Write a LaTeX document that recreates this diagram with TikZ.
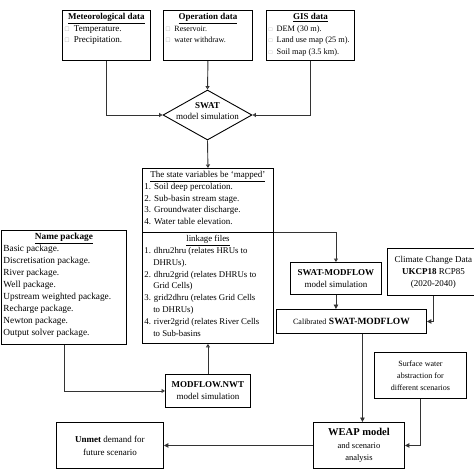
\documentclass[tikz,border=0pt]{standalone}
\usepackage{amssymb}
\usepackage{fontspec}
\setmainfont{Liberation Serif}
\usetikzlibrary{arrows.meta,shapes.geometric}

\newcommand{\boxtext}[3]{\parbox[t][#2][t]{#1}{#3}}
\newcommand{\fsize}[2]{\fontsize{#1}{#2}\selectfont}
\newcommand{\sqb}{{\color{gray!70}$\scriptscriptstyle\square$}\hspace{0.45em}}
\newcommand{\hangsp}{\hphantom{1.~}}

\begin{document}
\begin{tikzpicture}[%
    x=1pt, y=-1pt,
    box/.style={draw, line width=0.9pt, inner xsep=2pt, inner ysep=3pt, anchor=north west},
    cbox/.style={draw, line width=0.9pt, anchor=north west, align=center, inner sep=1pt},
    link/.style={line width=0.9pt, draw=black!80},
    oa/.style={-{Triangle[open,length=3.5pt,width=4pt]}},
    fa/.style={-{Triangle[length=4.5pt,width=4.5pt]}}
    ]

    \useasboundingbox (0,0) rectangle (474,474);

    % input data
    \node[box] (met) at (62,10) {\boxtext{84pt}{44pt}{\fsize{9}{11.5}\centering
        \underline{\textbf{Meteorological data}}\par\raggedright
        \sqb Temperature.\par\sqb Precipitation.}};
    \node[box] (oper) at (163,10) {\boxtext{85pt}{44pt}{\fsize{9}{11.5}\centering
        \underline{\textbf{Operation data}}\par\raggedright\fsize{8}{11.5}
        \sqb Reservoir.\par\sqb water withdraw.}};
    \node[box] (gis) at (266,10) {\boxtext{84pt}{44pt}{\fsize{9}{11.5}\centering
        \underline{\textbf{GIS data}}\par\raggedright\fsize{8.3}{11.5}
        \sqb DEM (30 m).\par\sqb Land use map (25 m).\par\sqb Soil map (3.5 km).}};

    % SWAT
    \node[draw, diamond, line width=0.9pt, minimum width=89pt, minimum height=50pt,
        inner sep=0pt] (swat) at (207.5,115) {};
    \node[align=center, font=\fsize{9}{11}] (swatlbl) at (207.5,111)
        {\textbf{SWAT}\\model simulation};

    \node[box] (state) at (142,168) {\boxtext{127pt}{58pt}{\fsize{9}{11.7}\centering
        \underline{The state variables be `mapped'}\par\raggedright
        1. Soil deep percolation.\par
        2. Sub-basin stream stage.\par
        3. Groundwater discharge.\par
        4. Water table elevation.}};
    \node[box] (linkage) at (142,232) {\boxtext{127pt}{105pt}{\fsize{8.8}{11.8}\centering
        \underline{linkage files}\par\raggedright
        \mbox{1. dhru2hru (relates HRUs to}\par
        \hangsp DHRUs).\par
        \mbox{2. dhru2grid (relates DHRUs to}\par
        \hangsp Grid Cells)\par
        \mbox{3. grid2dhru (relates Grid Cells}\par
        \hangsp to DHRUs)\par
        \mbox{4. river2grid (relates River Cells}\par
        \hangsp to Sub-basins}};

    \node[box] (pkg) at (1,230) {\boxtext{121pt}{108pt}{\fsize{9.3}{12}\centering
        \underline{\textbf{Name package}}\par\raggedright
        Basic package.\par
        Discretisation package.\par
        River package.\par
        Well package.\par
        Upstream weighted package.\par
        Recharge package.\par
        Newton package.\par
        Output solver package.}};

    % models
    \node[cbox, minimum width=85pt, minimum height=33pt, font=\fsize{9}{12}] (modflow)
        at (165,374) {\textbf{MODFLOW.NWT}\\model simulation};
    \node[cbox, minimum width=91pt, minimum height=32pt, font=\fsize{9}{12}] (swmf)
        at (290,262) {\textbf{SWAT-MODFLOW}\\model simulation};
    \node[cbox, minimum width=92pt, minimum height=47pt, font=\fsize{9}{12}] (climate)
        at (387,248) {Climate Change Data\\\textbf{UKCP18} RCP85\\(2020-2040)};
    \node[cbox, minimum width=150pt, minimum height=24pt] (calib)
        at (276,309) {{\fsize{8}{10}Calibrated} {\fsize{9.5}{11}\textbf{SWAT-MODFLOW}}};
    \node[cbox, minimum width=92pt, minimum height=46pt, font=\fsize{8}{12}] (surface)
        at (374,352) {Surface water\\abstraction for\\different scenarios};
    \node[cbox, minimum width=91pt, minimum height=46pt, font=\fsize{8.5}{12.5}] (weap)
        at (313,422) {{\fsize{10.5}{13}\textbf{WEAP model}}\\and scenario\\analysis};
    \node[cbox, minimum width=107pt, minimum height=46pt, font=\fsize{9}{13}] (unmet)
        at (56,422) {\textbf{Unmet} demand for\\future scenario};

    % connectors
    \draw[link,oa] (met.south) |- (swat.west);
    \draw[link,oa] (oper.south) -- (swat.north);
    \draw[link,oa] (gis.south) |- (swat.east);
    \draw[link,oa] (swat.south) -- (state.north);
    \draw[link,oa] (state.south east) -| (swmf.north);
    \draw[link,oa] (pkg.south) |- (modflow.west);
    \draw[link,oa] (modflow.north) -- (linkage.south);
    \draw[link,fa] (swmf.south) -- (swmf.south |- calib.north);
    \draw[link,fa] (climate.south) |- (calib.east);
    \draw[link,fa] ([xshift=3.5pt]calib.south -| weap.north) -- ([xshift=3.5pt]weap.north);
    \draw[link,fa] (surface.south) |- (weap.east);
    \draw[link,fa] (weap.west) -- (unmet.east);

\end{tikzpicture}
\end{document}
